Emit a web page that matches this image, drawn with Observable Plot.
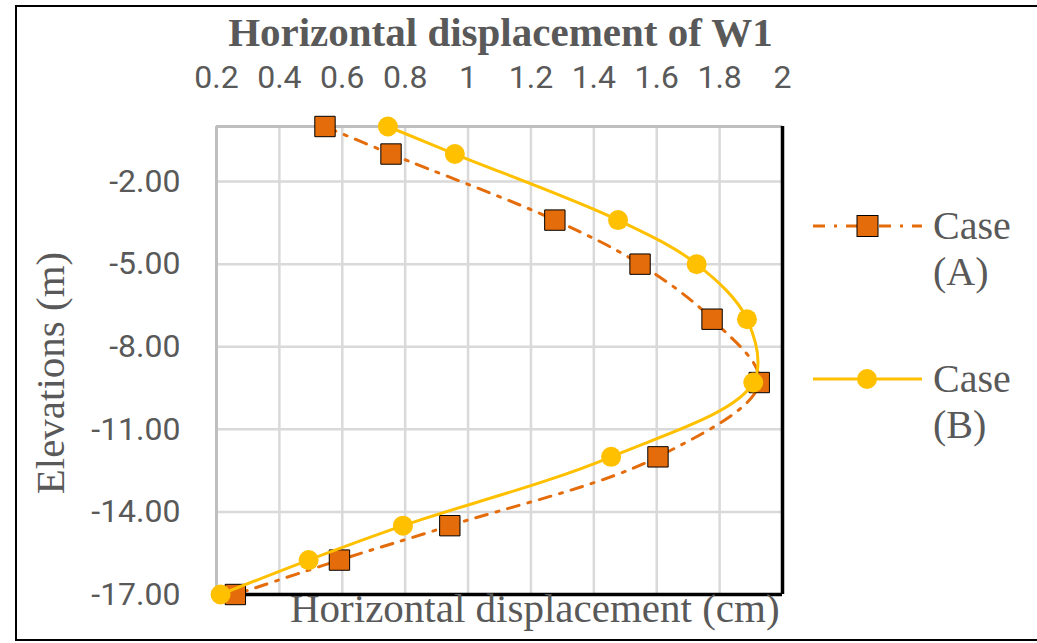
<!DOCTYPE html>
<html>
<head>
<meta charset="utf-8">
<script src="https://cdn.jsdelivr.net/npm/d3@7"></script>
<script src="https://cdn.jsdelivr.net/npm/@observablehq/plot@0.6"></script>
<style>
  html, body { margin: 0; padding: 0; background: #fff; }
  #wrap { position: relative; width: 1037px; height: 643px; overflow: hidden; }
  #frame { position: absolute; left: 15px; top: 5px; width: 1100px; height: 632px;
           border-left: 2px solid #000; border-top: 2px solid #000; border-bottom: 2px solid #000; }
  .serif { position: absolute; font-family: "Times New Roman", "Liberation Serif", Tinos, "DejaVu Serif", serif; color: #595959; white-space: nowrap; }
  #title { left: 0; width: 1001px; top: 15px; text-align: center; font-weight: bold; font-size: 41px; line-height: 34px; }
  #ytitle { left: 0; top: 0; font-size: 41px; line-height: 40px; transform-origin: 0 0; }
  #xtitle { left: 290px; top: 585px; font-size: 41px; line-height: 46px; }
  .legend-item { position: absolute; left: 810px; }
  .legend-item svg { position: absolute; left: 0; top: 0; }
  .legend-text { position: absolute; left: 123px; top: 0; font-size: 40px; line-height: 46px; }
  #chart svg { position: absolute; left: 0; top: 0; }
</style>
</head>
<body>
<div id="wrap">
  <div id="frame"></div>
  <div id="chart"></div>
  <div id="title" class="serif">Horizontal displacement of W1</div>
  <div id="ytitle" class="serif">Elevations (m)</div>
  <div id="xtitle" class="serif">Horizontal displacement (cm)</div>
</div>
<script>
// Elevation of each measuring point along the wall (m)
const elevations = [0, -1, -3.4, -5, -7, -9.3, -12, -14.5, -15.75, -17];
// Horizontal displacement for each case (cm)
const caseA = [0.545, 0.755, 1.276, 1.547, 1.776, 1.926, 1.604, 0.942, 0.591, 0.26];
const caseB = [0.745, 0.958, 1.477, 1.727, 1.887, 1.907, 1.455, 0.793, 0.493, 0.213];
const seriesNames = ["Case\n(A)", "Case\n(B)"];
// Axis ticks
const xTicks = [0.2, 0.4, 0.6, 0.8, 1, 1.2, 1.4, 1.6, 1.8, 2];
const yTicks = [-17, -14, -11, -8, -5, -2];

const orange = "#E46C0A";
const gold = "#FFC000";

const rowsA = elevations.map((e, i) => ({elev: e, disp: caseA[i]}));
const rowsB = elevations.map((e, i) => ({elev: e, disp: caseB[i]}));

const xMin = xTicks[0], xMax = xTicks[xTicks.length - 1];
const yMin = yTicks[0], yMax = 0;

const chart = Plot.plot({
  width: 1037,
  height: 643,
  marginLeft: 216,
  marginRight: 255,
  marginTop: 126,
  marginBottom: 49,
  style: {background: "transparent", overflow: "visible", fontFamily: "Roboto, 'Open Sans', sans-serif", fontSize: "32px", color: "#595959"},
  x: {domain: [xMin, xMax]},
  y: {domain: [yMin, yMax]},
  marks: [
    Plot.gridX(xTicks.slice(1, -1), {stroke: "#D9D9D9", strokeOpacity: 1, strokeWidth: 2.5}),
    Plot.gridY(yTicks.slice(1), {stroke: "#D9D9D9", strokeOpacity: 1, strokeWidth: 2.5}),
    Plot.ruleY([yMax], {stroke: "#BFBFBF", strokeWidth: 3}),
    Plot.ruleX([xMin], {stroke: "#BFBFBF", strokeWidth: 3}),
    Plot.ruleY([yMin], {stroke: "#000", strokeWidth: 3.5}),
    Plot.ruleX([xMax], {stroke: "#000", strokeWidth: 3.5}),
    Plot.axisX(xTicks, {anchor: "top", tickSize: 0, tickPadding: 39, label: null, tickFormat: d => String(d)}),
    Plot.axisY(yTicks, {anchor: "left", tickSize: 0, tickPadding: 36, label: null, tickFormat: d => d.toFixed(2)}),
    Plot.line(rowsA, {x: "disp", y: "elev", curve: "catmull-rom", stroke: orange, strokeWidth: 3, strokeDasharray: "12,9,3,9"}),
    Plot.dot(rowsA, {x: "disp", y: "elev", symbol: "square", r: 11.5, fill: orange, stroke: "#000", strokeWidth: 1}),
    Plot.line(rowsB, {x: "disp", y: "elev", curve: "catmull-rom", stroke: gold, strokeWidth: 3}),
    Plot.dot(rowsB, {x: "disp", y: "elev", r: 10, fill: gold, stroke: "none"})
  ]
});
document.getElementById("chart").appendChild(chart);

// Rotated y-axis title, centred beside the plot
const yt = document.getElementById("ytitle");
const w = yt.getBoundingClientRect().width;
yt.style.transform = `translate(30px, ${373 + w / 2}px) rotate(-90deg)`;

// Legend entries
const wrap = document.getElementById("wrap");
const legend = [
  {name: seriesNames[0], top: 203, swatch: `<line x1="3" x2="112" y1="23" y2="23" stroke="${orange}" stroke-width="3" stroke-dasharray="12,9,3,9"/><rect x="47" y="12.5" width="21" height="21" fill="${orange}" stroke="#000" stroke-width="1"/>`},
  {name: seriesNames[1], top: 356, swatch: `<line x1="3" x2="112" y1="23" y2="23" stroke="${gold}" stroke-width="3"/><circle cx="57" cy="23" r="10" fill="${gold}"/>`}
];
for (const item of legend) {
  const div = document.createElement("div");
  div.className = "legend-item";
  div.style.top = item.top + "px";
  div.innerHTML = `<svg width="120" height="46">${item.swatch}</svg>` +
    `<div class="legend-text serif">${item.name.split("\n").join("<br>")}</div>`;
  wrap.appendChild(div);
}
</script>
</body>
</html>
